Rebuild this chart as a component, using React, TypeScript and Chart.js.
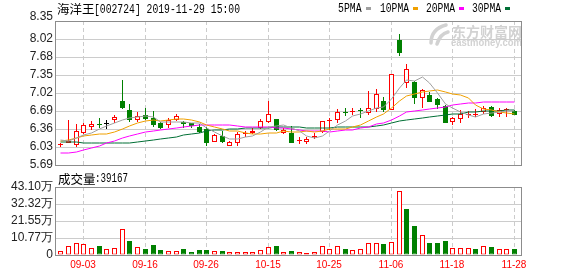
import React, { useEffect, useRef } from "react";
import { Chart, registerables } from "chart.js";

Chart.register(...registerables);

// ---------------- data ----------------
const STOCK_NAME = "海洋王";
const STOCK_INFO = "[002724] 2019-11-29 15:00";
const VOLUME_CAPTION = "成交量";
const LAST_VOLUME_TEXT = ":39167";
const WATERMARK_CN = "东方财富网";
const WATERMARK_EN = "eastmoney.com";

const OPEN = [
  6.06, 6.09, 6.06, 6.29, 6.39, 6.45, 6.44, 6.53, 6.88, 6.71,
  6.52, 6.61, 6.56, 6.47, 6.42, 6.52, 6.49, 6.46, 6.40, 6.35,
  6.11, 6.23, 6.05, 6.09, 6.26, 6.28, 6.37, 6.49, 6.54, 6.29,
  6.29, 6.13, 6.11, 6.20, 6.30, 6.51, 6.53, 6.67, 6.66, 6.69,
  6.65, 6.72, 6.87, 6.71, 8.00, 7.21, 7.22, 6.93, 6.98, 6.90,
  6.78, 6.48, 6.54, 6.62, 6.62, 6.67, 6.77, 6.64, 6.70, 6.68,
];
const HIGH = [
  6.10, 6.52, 6.45, 6.47, 6.50, 6.55, 6.53, 6.62, 7.26, 6.81,
  6.66, 6.74, 6.68, 6.49, 6.56, 6.64, 6.50, 6.47, 6.45, 6.39,
  6.27, 6.32, 6.13, 6.30, 6.31, 6.37, 6.54, 6.87, 6.54, 6.38,
  6.41, 6.20, 6.21, 6.29, 6.50, 6.55, 6.73, 6.75, 6.75, 6.75,
  7.06, 7.09, 6.95, 7.37, 8.11, 7.55, 7.25, 7.10, 7.04, 6.92,
  6.80, 6.58, 6.70, 6.69, 6.73, 6.78, 6.78, 6.75, 6.74, 6.71,
];
const LOW = [
  6.03, 6.09, 6.02, 6.26, 6.33, 6.38, 6.35, 6.47, 6.73, 6.48,
  6.49, 6.52, 6.40, 6.35, 6.38, 6.50, 6.37, 6.38, 6.28, 6.05,
  6.11, 6.10, 6.05, 6.05, 6.20, 6.26, 6.35, 6.46, 6.32, 6.27,
  6.10, 6.07, 6.08, 6.17, 6.29, 6.34, 6.47, 6.59, 6.61, 6.55,
  6.61, 6.66, 6.66, 6.70, 7.71, 7.12, 6.81, 6.74, 6.86, 6.72,
  6.47, 6.43, 6.47, 6.55, 6.57, 6.63, 6.58, 6.58, 6.58, 6.61,
];
const CLOSE = [
  6.07, 6.14, 6.32, 6.42, 6.44, 6.43, 6.44, 6.58, 6.75, 6.53,
  6.60, 6.54, 6.42, 6.38, 6.53, 6.60, 6.45, 6.41, 6.30, 6.10,
  6.24, 6.11, 6.12, 6.27, 6.28, 6.31, 6.50, 6.63, 6.33, 6.34,
  6.10, 6.14, 6.17, 6.22, 6.50, 6.53, 6.66, 6.65, 6.67, 6.68,
  6.75, 7.00, 6.70, 7.37, 7.76, 7.46, 6.92, 7.07, 6.86, 6.79,
  6.47, 6.55, 6.63, 6.64, 6.63, 6.75, 6.59, 6.71, 6.72, 6.61,
];
const VOLUME = [
  25000, 57000, 74000, 70000, 42000, 57000, 38000, 42000, 163000, 89000,
  49000, 38000, 63000, 32000, 27000, 27000, 38000, 17000, 32000, 32000,
  23000, 25000, 17000, 17000, 17000, 17000, 32000, 51000, 59000, 17000,
  25000, 17000, 13000, 17000, 57000, 38000, 57000, 38000, 32000, 38000,
  76000, 76000, 70000, 80000, 406000, 293000, 184000, 127000, 78000, 78000,
  89000, 44000, 44000, 44000, 38000, 57000, 51000, 36000, 36000, 39167,
];
const MA5 = [
  6.16, 6.14, 6.18, 6.24, 6.28, 6.35, 6.41, 6.46, 6.53, 6.55,
  6.58, 6.60, 6.57, 6.49, 6.49, 6.49, 6.48, 6.47, 6.46, 6.37,
  6.30, 6.23, 6.17, 6.17, 6.20, 6.22, 6.30, 6.40, 6.41, 6.42,
  6.38, 6.31, 6.22, 6.19, 6.23, 6.31, 6.42, 6.51, 6.60, 6.64,
  6.68, 6.75, 6.76, 6.90, 7.12, 7.26, 7.24, 7.32, 7.21, 7.02,
  6.82, 6.75, 6.66, 6.62, 6.58, 6.64, 6.65, 6.66, 6.68, 6.68,
];
const MA10 = [
  6.13, 6.15, 6.18, 6.22, 6.24, 6.26, 6.27, 6.30, 6.35, 6.41,
  6.47, 6.51, 6.52, 6.51, 6.52, 6.54, 6.54, 6.52, 6.48, 6.43,
  6.40, 6.35, 6.32, 6.31, 6.29, 6.26, 6.26, 6.29, 6.29, 6.31,
  6.30, 6.30, 6.31, 6.30, 6.32, 6.35, 6.36, 6.36, 6.40, 6.43,
  6.50, 6.58, 6.64, 6.75, 6.88, 6.97, 7.00, 7.04, 7.06, 7.07,
  7.04, 7.00, 6.99, 6.92, 6.80, 6.73, 6.70, 6.66, 6.65, 6.63,
];
const MA20 = [
  5.92, 5.91, 5.93, 5.97, 6.01, 6.05, 6.09, 6.14, 6.19, 6.23,
  6.27, 6.30, 6.32, 6.34, 6.35, 6.38, 6.40, 6.41, 6.42, 6.42,
  6.43, 6.43, 6.42, 6.41, 6.40, 6.40, 6.40, 6.40, 6.38, 6.37,
  6.35, 6.33, 6.32, 6.31, 6.31, 6.30, 6.31, 6.33, 6.34, 6.37,
  6.40, 6.44, 6.47, 6.53, 6.60, 6.66, 6.68, 6.70, 6.73, 6.75,
  6.77, 6.79, 6.81, 6.83, 6.84, 6.85, 6.85, 6.85, 6.85, 6.85,
];
const MA30 = [
  6.11, 6.11, 6.11, 6.10, 6.10, 6.10, 6.10, 6.10, 6.10, 6.10,
  6.11, 6.13, 6.15, 6.17, 6.19, 6.21, 6.24, 6.27, 6.29, 6.31,
  6.33, 6.34, 6.35, 6.36, 6.37, 6.37, 6.38, 6.38, 6.39, 6.39,
  6.39, 6.39, 6.38, 6.38, 6.38, 6.38, 6.39, 6.39, 6.39, 6.39,
  6.40, 6.41, 6.42, 6.46, 6.50, 6.53, 6.54, 6.56, 6.58, 6.60,
  6.61, 6.63, 6.64, 6.66, 6.67, 6.68, 6.69, 6.69, 6.70, 6.71,
];
const MA_LABELS = ["5PMA", "10PMA", "20PMA", "30PMA"];

const X_TICK_INDEX = [3, 11, 19, 27, 35, 43, 51, 59];
const X_TICK_LABELS = ["09-03", "09-16", "09-26", "10-15", "10-25", "11-06", "11-18", "11-28"];

const PRICE_MIN = 5.69;
const PRICE_MAX = 8.35;
const PRICE_TICK_LABELS = ["5.69", "6.03", "6.36", "6.69", "7.02", "7.35", "7.68", "8.02", "8.35"];

const VOL_MAX = 431000;
const VOL_TICK_LABELS = ["0", "10.77万", "21.55万", "32.32万", "43.10万"];

// ---------------- layout / style ----------------
const W = 578;
const H = 276;
const PLOT_LEFT = 56;
const PLOT_RIGHT = 522;
const PRICE_TOP = 21;
const PRICE_BOTTOM = 165;
const VOL_TOP = 187;
const VOL_BOTTOM = 255;
const X_MIN = -0.55;
const X_MAX = 60.05;

const RED = "#ff0000";
const GREEN = "#008000";
const BLACK = "#000000";
const MA_COLORS = ["#a0a0a0", "#f0a000", "#ff00ff", "#006f35"];
const GRID = "#cccccc";
const FRAME = "#8c8c8c";
const AXIS_FONT = "'Liberation Sans', Arial, sans-serif";
const MONO = "'Liberation Mono', 'DejaVu Sans Mono', monospace";
const CJK = "'Noto Sans CJK SC', sans-serif";

const idx = CLOSE.map((_, i) => i);
const candleColor = (i: number) =>
  CLOSE[i] > OPEN[i] ? RED : CLOSE[i] < OPEN[i] ? GREEN : BLACK;
const volumeUp = (i: number) => i === 0 || CLOSE[i] >= CLOSE[i - 1];

function xScale(showLabels: boolean): any {
  return {
    type: "linear",
    display: showLabels,
    min: X_MIN,
    max: X_MAX,
    offset: false,
    alignToPixels: true,
    afterBuildTicks: (s: any) => {
      s.ticks = X_TICK_INDEX.map((v) => ({ value: v }));
    },
    afterFit: (s: any) => {
      s.height = showLabels ? H - VOL_BOTTOM : 0;
    },
    grid: { display: false, drawTicks: false },
    border: { display: false },
    ticks: {
      autoSkip: false,
      maxRotation: 0,
      minRotation: 0,
      padding: 4,
      color: RED,
      font: { family: AXIS_FONT, size: 10 },
      callback: (_v: any, i: number) => X_TICK_LABELS[i],
    },
  };
}

const framePlugin = {
  id: "frameAndDash",
  beforeDatasetsDraw(chart: any) {
    const { ctx, chartArea: a, scales } = chart;
    ctx.save();
    ctx.strokeStyle = GRID;
    ctx.lineWidth = 1;
    ctx.setLineDash([4, 3]);
    X_TICK_INDEX.forEach((v) => {
      const px = Math.floor(scales.x.getPixelForValue(v)) + 0.5;
      ctx.beginPath();
      ctx.moveTo(px, a.top);
      ctx.lineTo(px, a.bottom);
      ctx.stroke();
    });
    ctx.restore();
  },
  afterDraw(chart: any) {
    const { ctx, chartArea: a } = chart;
    ctx.save();
    ctx.strokeStyle = FRAME;
    ctx.lineWidth = 1;
    ctx.strokeRect(
      Math.round(a.left) - 0.5,
      Math.round(a.top) + 0.5,
      Math.round(a.right - a.left),
      Math.round(a.bottom - a.top)
    );
    ctx.restore();
  },
};

// shift the marks half a pixel so that pixel-aligned bars land on whole device pixels
const crispPlugin = {
  id: "crisp",
  beforeDatasetsDraw(chart: any) {
    chart.ctx.save();
    chart.ctx.translate(0.5, 0);
  },
  afterDatasetsDraw(chart: any) {
    chart.ctx.restore();
  },
};

const textPlugin = {
  id: "texts",
  beforeDatasetsDraw(chart: any) {
    const { ctx } = chart;
    ctx.save();
    const wm = "#d2d2d2";
    ctx.fillStyle = wm;
    ctx.strokeStyle = wm;
    ctx.textBaseline = "middle";
    ctx.textAlign = "left";
    ctx.lineWidth = 3.5;
    ctx.lineCap = "round";
    ctx.beginPath();
    ctx.moveTo(431, 43);
    ctx.quadraticCurveTo(431, 29, 446, 25);
    ctx.stroke();
    ctx.beginPath();
    ctx.moveTo(437, 44);
    ctx.quadraticCurveTo(440, 34, 448, 32);
    ctx.stroke();
    ctx.font = `bold 14px ${CJK}`;
    ctx.fillText(WATERMARK_CN, 452, 31.5, 70);
    ctx.font = `bold 10px ${AXIS_FONT}`;
    ctx.fillText(WATERMARK_EN, 451, 43.5, 71);
    ctx.restore();
  },
  afterDraw(chart: any) {
    const { ctx } = chart;
    ctx.save();
    ctx.textBaseline = "middle";
    ctx.textAlign = "left";
    ctx.fillStyle = "#000";
    // title
    ctx.font = `12.5px ${CJK}`;
    ctx.fillText(STOCK_NAME, 57, 9.5);
    ctx.font = `12px ${MONO}`;
    ctx.fillText(STOCK_INFO, 94, 9.5, 146);
    // legend
    const lx = [338, 380, 426, 472];
    const lw = [23.5, 29, 29, 29];
    const sx = [366, 413, 459, 505];
    MA_LABELS.forEach((lab, k) => {
      ctx.fillStyle = "#000";
      ctx.font = `12px ${MONO}`;
      ctx.fillText(lab, lx[k], 9, lw[k]);
      ctx.fillStyle = MA_COLORS[k];
      ctx.fillRect(sx[k], 7, 5, 3);
    });
    // volume caption
    ctx.fillStyle = "#000";
    ctx.font = `12.5px ${CJK}`;
    ctx.fillText(VOLUME_CAPTION, 58, 179.5);
    ctx.font = `12px ${MONO}`;
    ctx.fillText(LAST_VOLUME_TEXT, 95, 179, 33);
    ctx.restore();
  },
};

export default function App() {
  const priceRef = useRef<HTMLCanvasElement>(null);
  const volRef = useRef<HTMLCanvasElement>(null);

  useEffect(() => {
    const maSeries = [MA5, MA10, MA20, MA30];
    const priceChart = new Chart(priceRef.current as HTMLCanvasElement, {
      type: "bar",
      data: {
        datasets: [
          ...maSeries.map((s, k) => ({
            type: "line",
            label: MA_LABELS[k],
            data: idx.map((i) => ({ x: i, y: s[i] })),
            borderColor: MA_COLORS[k],
            borderWidth: 1,
            pointRadius: 0,
            tension: 0,
            fill: false,
            order: 0,
          })),
          {
            type: "bar",
            label: "body",
            data: idx.map((i) => ({ x: i, y: [OPEN[i], CLOSE[i]] })),
            backgroundColor: idx.map((i) => (CLOSE[i] > OPEN[i] ? "#ffffff" : candleColor(i))),
            borderColor: idx.map((i) => candleColor(i)),
            borderWidth: 1,
            borderSkipped: false,
            barThickness: 5,
            minBarLength: 1,
            grouped: false,
            inflateAmount: 0,
            order: 1,
          },
          {
            type: "bar",
            label: "wick",
            data: idx.map((i) => ({ x: i, y: [LOW[i], HIGH[i]] })),
            backgroundColor: idx.map((i) => candleColor(i)),
            borderWidth: 0,
            barThickness: 1,
            grouped: false,
            inflateAmount: 0,
            order: 2,
          },
        ] as any,
      },
      options: {
        responsive: false,
        animation: false,
        events: [],
        layout: { padding: { top: PRICE_TOP, right: W - PLOT_RIGHT, bottom: H - PRICE_BOTTOM, left: 0 } },
        plugins: { legend: { display: false }, tooltip: { enabled: false } },
        scales: {
          x: xScale(false),
          y: {
            type: "linear",
            min: PRICE_MIN,
            max: PRICE_MAX,
            beginAtZero: false,
            alignToPixels: true,
            afterBuildTicks: (s: any) => {
              const n = PRICE_TICK_LABELS.length - 1;
              s.ticks = PRICE_TICK_LABELS.map((_, k) => ({
                value: PRICE_MIN + (k * (PRICE_MAX - PRICE_MIN)) / n,
              }));
            },
            afterFit: (s: any) => {
              s.width = PLOT_LEFT;
            },
            grid: { color: GRID, drawTicks: false, lineWidth: 1 },
            border: { display: false },
            ticks: {
              autoSkip: false,
              padding: 3,
              color: "#222",
              font: { family: AXIS_FONT, size: 12, lineHeight: 0.8 },
              callback: (_v: any, i: number, arr: any[]) =>
                i === arr.length - 1 ? [PRICE_TICK_LABELS[i], ""] : PRICE_TICK_LABELS[i],
            },
          },
        },
      } as any,
      plugins: [framePlugin, textPlugin, crispPlugin],
    } as any);

    const volChart = new Chart(volRef.current as HTMLCanvasElement, {
      type: "bar",
      data: {
        datasets: [
          {
            label: VOLUME_CAPTION,
            data: idx.map((i) => ({ x: i, y: VOLUME[i] })),
            backgroundColor: idx.map((i) => (volumeUp(i) ? "#ffffff" : GREEN)),
            borderColor: idx.map((i) => (volumeUp(i) ? RED : GREEN)),
            borderWidth: 1,
            borderSkipped: false,
            barThickness: 5,
            grouped: false,
            inflateAmount: 0,
          },
        ] as any,
      },
      options: {
        responsive: false,
        animation: false,
        events: [],
        layout: { padding: { top: VOL_TOP, right: W - PLOT_RIGHT, bottom: 0, left: 0 } },
        plugins: { legend: { display: false }, tooltip: { enabled: false } },
        scales: {
          x: xScale(true),
          y: {
            type: "linear",
            min: 0,
            max: VOL_MAX,
            alignToPixels: true,
            afterBuildTicks: (s: any) => {
              const n = VOL_TICK_LABELS.length - 1;
              s.ticks = VOL_TICK_LABELS.map((_, k) => ({ value: (k * VOL_MAX) / n }));
            },
            afterFit: (s: any) => {
              s.width = PLOT_LEFT;
            },
            grid: { color: GRID, drawTicks: false, lineWidth: 1 },
            border: { display: false },
            ticks: {
              autoSkip: false,
              padding: 3,
              color: "#222",
              font: { family: AXIS_FONT, size: 12 },
              callback: (_v: any, i: number) => VOL_TICK_LABELS[i],
            },
          },
        },
      } as any,
      plugins: [framePlugin, crispPlugin],
    } as any);

    return () => {
      priceChart.destroy();
      volChart.destroy();
    };
  }, []);

  return (
    <div style={{ position: "fixed", left: 0, top: 0, width: W, height: H, background: "#ffffff" }}>
      <canvas ref={priceRef} width={W} height={H} style={{ position: "absolute", left: 0, top: 0 }} />
      <canvas ref={volRef} width={W} height={H} style={{ position: "absolute", left: 0, top: 0 }} />
    </div>
  );
}
